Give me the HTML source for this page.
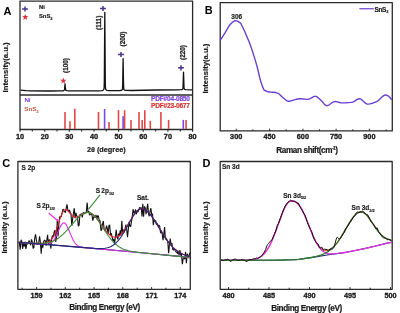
<!DOCTYPE html>
<html><head><meta charset="utf-8"><style>
html,body{margin:0;padding:0;background:#fff;}
svg{display:block;will-change:transform;}
text{font-family:"Liberation Sans",sans-serif;font-weight:bold;fill:#1a1a1a;}
.tk{font-size:7.3px;stroke:#1a1a1a;stroke-width:0.3px;}
.lb{font-size:7.3px;stroke:#1a1a1a;stroke-width:0.2px;}
.lbc{font-size:8.2px;letter-spacing:-0.4px;stroke:#1a1a1a;stroke-width:0.2px;}
.lby{font-size:7.7px;stroke:#1a1a1a;stroke-width:0.15px;}
.pl{font-size:11px;fill:#000;}
.lg{font-size:5.8px;fill:#222;stroke:#222;stroke-width:0.2px;}
.hk{font-size:6.4px;stroke:#1a1a1a;stroke-width:0.25px;}
.rf{font-size:6.6px;letter-spacing:-0.2px;stroke-width:0.15px;}
.sm{font-size:6.5px;stroke:#1a1a1a;stroke-width:0.15px;}
</style></head><body>
<svg width="400" height="313" viewBox="0 0 400 313">
<rect width="400" height="313" fill="#fff"/>
<rect x="20" y="1.1" width="172.6" height="128.4" fill="none" stroke="#2a2a2a" stroke-width="1.3" stroke-linejoin="round"/>
<line x1="20" y1="95" x2="192.6" y2="95" stroke="#2a2a2a" stroke-width="1.3"/>
<line x1="20" y1="129.5" x2="20" y2="131.8" stroke="#2a2a2a" stroke-width="1.1"/>
<line x1="32.3" y1="129.5" x2="32.3" y2="131.5" stroke="#2a2a2a" stroke-width="1.1"/>
<line x1="44.7" y1="129.5" x2="44.7" y2="131.8" stroke="#2a2a2a" stroke-width="1.1"/>
<line x1="57" y1="129.5" x2="57" y2="131.5" stroke="#2a2a2a" stroke-width="1.1"/>
<line x1="69.3" y1="129.5" x2="69.3" y2="131.8" stroke="#2a2a2a" stroke-width="1.1"/>
<line x1="81.6" y1="129.5" x2="81.6" y2="131.5" stroke="#2a2a2a" stroke-width="1.1"/>
<line x1="94" y1="129.5" x2="94" y2="131.8" stroke="#2a2a2a" stroke-width="1.1"/>
<line x1="106.3" y1="129.5" x2="106.3" y2="131.5" stroke="#2a2a2a" stroke-width="1.1"/>
<line x1="118.6" y1="129.5" x2="118.6" y2="131.8" stroke="#2a2a2a" stroke-width="1.1"/>
<line x1="131" y1="129.5" x2="131" y2="131.5" stroke="#2a2a2a" stroke-width="1.1"/>
<line x1="143.3" y1="129.5" x2="143.3" y2="131.8" stroke="#2a2a2a" stroke-width="1.1"/>
<line x1="155.6" y1="129.5" x2="155.6" y2="131.5" stroke="#2a2a2a" stroke-width="1.1"/>
<line x1="167.9" y1="129.5" x2="167.9" y2="131.8" stroke="#2a2a2a" stroke-width="1.1"/>
<line x1="180.3" y1="129.5" x2="180.3" y2="131.5" stroke="#2a2a2a" stroke-width="1.1"/>
<line x1="192.6" y1="129.5" x2="192.6" y2="131.8" stroke="#2a2a2a" stroke-width="1.1"/>
<text x="20" y="139.2" class="tk" text-anchor="middle">10</text>
<text x="44.7" y="139.2" class="tk" text-anchor="middle">20</text>
<text x="69.3" y="139.2" class="tk" text-anchor="middle">30</text>
<text x="94" y="139.2" class="tk" text-anchor="middle">40</text>
<text x="118.6" y="139.2" class="tk" text-anchor="middle">50</text>
<text x="143.3" y="139.2" class="tk" text-anchor="middle">60</text>
<text x="167.9" y="139.2" class="tk" text-anchor="middle">70</text>
<text x="192.6" y="139.2" class="tk" text-anchor="middle">80</text>
<text x="106.3" y="152" class="lb" text-anchor="middle">2θ (degree)</text>
<text transform="translate(8.4,67.4) rotate(-90)" class="lby" text-anchor="middle">Intensity(a.u.)</text>
<text x="3.6" y="15.3" class="pl">A</text>
<polyline fill="none" stroke="#111" stroke-width="1.3" stroke-linejoin="round" points="20.6,90.2 25.9,90.7 30,90.9 49.4,91 60,90.9 63,90.8 64,90.4 64.2,90.2 64.4,89.9 64.6,88.8 65,83.9 65.5,88.7 65.7,89.9 65.8,90.2 66.1,90.4 66.9,90.7 68.5,90.8 72,90.9 98.7,90.8 102,90.6 102.9,90.3 103.4,90 103.9,89.2 104.1,88.2 104.3,82.3 104.8,12.3 105.3,82.3 105.4,86.5 105.6,88.6 105.8,89.4 106.3,90 106.7,90.3 107.2,90.4 108.8,90.6 118.3,90.6 120.1,90.5 121.2,90.3 121.8,90.1 122.3,89.6 122.5,88.4 122.7,85.1 123.1,58.6 123.5,82.9 123.7,87.7 123.8,88.8 123.9,89.5 124.2,89.9 124.6,90.1 125.3,90.3 126.4,90.4 131.5,90.5 155.9,90 178.4,89.8 180.8,89.7 181.9,89.6 182.4,89.3 182.7,89 183,87.9 183.5,72.1 184,86.5 184.1,87.9 184.3,88.9 184.5,89.2 184.8,89.4 185.8,89.7 192,89.8"/>
<path d="M22.1 9H27.9M25 6.4V11.6" stroke="#48328a" stroke-width="1.5"/>
<polygon fill="#e0303a" points="25.2,13.9 26,16.1 28.3,16.2 26.5,17.6 27.1,19.9 25.2,18.6 23.3,19.9 23.9,17.6 22.1,16.2 24.4,16.1"/>
<text x="39" y="9.2" class="lg">Ni</text>
<text x="39" y="17.8" class="lg">SnS<tspan font-size="4" dy="1.8">2</tspan></text>
<path d="M100.1 8.5H105.9M103 5.9V11.1" stroke="#48328a" stroke-width="1.5"/>
<path d="M118.1 54.5H123.9M121 51.9V57.1" stroke="#48328a" stroke-width="1.5"/>
<path d="M178.1 67.8H183.9M181 65.2V70.4" stroke="#48328a" stroke-width="1.5"/>
<polygon fill="#e0303a" points="63.3,77.5 64.1,79.7 66.4,79.8 64.6,81.2 65.2,83.5 63.3,82.2 61.4,83.5 62,81.2 60.2,79.8 62.5,79.7"/>
<text transform="translate(67.7,65.5) rotate(-90)" class="hk" text-anchor="middle">(100)</text>
<text transform="translate(101.2,22.8) rotate(-90)" class="hk" text-anchor="middle">(111)</text>
<text transform="translate(125.2,39) rotate(-90)" class="hk" text-anchor="middle">(200)</text>
<text transform="translate(185.2,52.5) rotate(-90)" class="hk" text-anchor="middle">(220)</text>
<line x1="65" y1="111.9" x2="65" y2="128.9" stroke="#e04848" stroke-width="1.6"/>
<line x1="70" y1="121.3" x2="70" y2="128.9" stroke="#e04848" stroke-width="1.6"/>
<line x1="74.8" y1="108.8" x2="74.8" y2="128.9" stroke="#e04848" stroke-width="1.6"/>
<line x1="98.5" y1="111.9" x2="98.5" y2="128.9" stroke="#e04848" stroke-width="1.6"/>
<line x1="109" y1="121.9" x2="109" y2="128.9" stroke="#e04848" stroke-width="1.6"/>
<line x1="118.5" y1="110.2" x2="118.5" y2="128.9" stroke="#e04848" stroke-width="1.6"/>
<line x1="124.6" y1="110.2" x2="124.6" y2="128.9" stroke="#e04848" stroke-width="1.6"/>
<line x1="131" y1="120" x2="131" y2="128.9" stroke="#e04848" stroke-width="1.6"/>
<line x1="139" y1="112.1" x2="139" y2="128.9" stroke="#e04848" stroke-width="1.6"/>
<line x1="142.2" y1="120" x2="142.2" y2="128.9" stroke="#e04848" stroke-width="1.6"/>
<line x1="144.8" y1="110.3" x2="144.8" y2="128.9" stroke="#e04848" stroke-width="1.6"/>
<line x1="150.3" y1="120.9" x2="150.3" y2="128.9" stroke="#e04848" stroke-width="1.6"/>
<line x1="160.9" y1="112.1" x2="160.9" y2="128.9" stroke="#e04848" stroke-width="1.6"/>
<line x1="168.6" y1="119.9" x2="168.6" y2="128.9" stroke="#e04848" stroke-width="1.6"/>
<line x1="186.1" y1="119.9" x2="186.1" y2="128.9" stroke="#e04848" stroke-width="1.6"/>
<line x1="104.6" y1="109" x2="104.6" y2="128.9" stroke="#8048e0" stroke-width="1.6"/>
<line x1="123.1" y1="116.2" x2="123.1" y2="128.9" stroke="#8048e0" stroke-width="1.6"/>
<line x1="183.3" y1="119.9" x2="183.3" y2="128.9" stroke="#8048e0" stroke-width="1.6"/>
<text x="24.5" y="101.9" class="rf" style="fill:#8040e0;font-size:6.2px">Ni</text>
<text x="24.3" y="110.5" class="rf" style="fill:#c8553a;font-size:6.2px;letter-spacing:0px">SnS<tspan font-size="4.2" dy="2.2">2</tspan></text>
<text x="189.8" y="101.1" class="rf" text-anchor="end" style="fill:#7a3fd8;stroke:#7a3fd8">PDF#04-0850</text>
<text x="189.8" y="108" class="rf" text-anchor="end" style="fill:#d83030;stroke:#d83030">PDF#23-0677</text>
<rect x="220.2" y="2.7" width="172.1" height="128.2" fill="none" stroke="#2a2a2a" stroke-width="1.3" stroke-linejoin="round"/>
<line x1="236.2" y1="130.9" x2="236.2" y2="128.7" stroke="#2a2a2a" stroke-width="1"/>
<line x1="252.9" y1="130.9" x2="252.9" y2="129.3" stroke="#2a2a2a" stroke-width="1"/>
<line x1="269.6" y1="130.9" x2="269.6" y2="128.7" stroke="#2a2a2a" stroke-width="1"/>
<line x1="286.2" y1="130.9" x2="286.2" y2="129.3" stroke="#2a2a2a" stroke-width="1"/>
<line x1="302.9" y1="130.9" x2="302.9" y2="128.7" stroke="#2a2a2a" stroke-width="1"/>
<line x1="319.5" y1="130.9" x2="319.5" y2="129.3" stroke="#2a2a2a" stroke-width="1"/>
<line x1="336.1" y1="130.9" x2="336.1" y2="128.7" stroke="#2a2a2a" stroke-width="1"/>
<line x1="352.8" y1="130.9" x2="352.8" y2="129.3" stroke="#2a2a2a" stroke-width="1"/>
<line x1="369.4" y1="130.9" x2="369.4" y2="128.7" stroke="#2a2a2a" stroke-width="1"/>
<line x1="386.1" y1="130.9" x2="386.1" y2="129.3" stroke="#2a2a2a" stroke-width="1"/>
<text x="236.2" y="139" class="tk" text-anchor="middle">300</text>
<text x="269.6" y="139" class="tk" text-anchor="middle">450</text>
<text x="302.9" y="139" class="tk" text-anchor="middle">600</text>
<text x="336.1" y="139" class="tk" text-anchor="middle">750</text>
<text x="369.4" y="139" class="tk" text-anchor="middle">900</text>
<text x="307" y="153.2" class="lbc" text-anchor="middle">Raman shift(cm<tspan font-size="4.5" dy="-3">-1</tspan><tspan dy="3">)</tspan></text>
<text transform="translate(208.2,68.6) rotate(-90)" class="lby" text-anchor="middle">Intensity(a.u.)</text>
<text x="204.8" y="13.6" class="pl">B</text>
<text x="236.8" y="19" class="sm" text-anchor="middle">306</text>
<line x1="359.4" y1="8.75" x2="373.8" y2="8.75" stroke="#6a3fd0" stroke-width="1.2"/>
<text x="374.4" y="11.9" class="sm" style="letter-spacing:-0.3px">SnS<tspan font-size="4" dy="1.4">2</tspan></text>
<polyline fill="none" stroke="#6a3fd0" stroke-width="1.4" stroke-linejoin="round" points="220.2,40.4 225.2,32.6 228.7,26.5 229.7,25.1 232.7,22.1 234.2,21 235.2,20.7 235.7,20.7 236.7,20.9 237.7,21.2 238.7,21.8 240.2,22.8 240.7,23.4 241.2,24.2 244.2,30.3 249.2,42.1 251.2,47.4 254.7,58.4 256.7,65.1 257.7,69 259.7,77.6 260.7,81.2 262.7,87.1 263.7,89.3 264.2,90.1 264.7,90.5 265.7,90.9 267.2,91.5 269.7,92 273.7,92.3 275.2,92.5 276.7,92.9 278.7,93.7 279.7,94.5 282.2,97 285.2,99.5 286.7,100.7 287.7,101.1 288.7,101.3 289.7,101.2 292.7,100.3 296.7,99.2 299.2,98.8 301.2,98.8 306.7,99.4 308.2,99.3 309.7,98.8 313.7,96.7 314.7,96.4 315.7,96.3 316.7,96.6 318.2,97.7 321.2,100.5 324.2,103.9 325.2,104.9 326.2,105.5 326.7,105.6 327.2,105.6 327.7,105.5 328.7,105.1 329.7,104.5 332.7,102.3 334.2,101.6 335.2,101.5 336.2,101.6 340.7,102.7 342.2,102.9 346.2,102.8 350.7,102.4 352.2,102.2 353.2,101.9 354.2,101.3 357.2,99.4 358.2,99 359.2,98.8 360.2,98.9 361.2,99.4 362.2,100.2 364.7,102.6 366.2,103.7 367.2,104.1 368.2,104.1 369.7,103.9 372.7,103.2 376.7,101.7 377.7,101.1 378.7,100.2 382.7,96.3 384.2,95.4 385.2,95 385.7,95 386.7,95.2 388.2,96 389.7,97.3 391.7,99.7"/>
<rect x="17.9" y="161.5" width="172.4" height="127.8" fill="none" stroke="#2a2a2a" stroke-width="1.3" stroke-linejoin="round"/>
<line x1="22.2" y1="289.3" x2="22.2" y2="287.7" stroke="#2a2a2a" stroke-width="1"/>
<line x1="36.6" y1="289.3" x2="36.6" y2="287.1" stroke="#2a2a2a" stroke-width="1"/>
<line x1="51" y1="289.3" x2="51" y2="287.7" stroke="#2a2a2a" stroke-width="1"/>
<line x1="65.3" y1="289.3" x2="65.3" y2="287.1" stroke="#2a2a2a" stroke-width="1"/>
<line x1="79.7" y1="289.3" x2="79.7" y2="287.7" stroke="#2a2a2a" stroke-width="1"/>
<line x1="94.1" y1="289.3" x2="94.1" y2="287.1" stroke="#2a2a2a" stroke-width="1"/>
<line x1="108.4" y1="289.3" x2="108.4" y2="287.7" stroke="#2a2a2a" stroke-width="1"/>
<line x1="122.8" y1="289.3" x2="122.8" y2="287.1" stroke="#2a2a2a" stroke-width="1"/>
<line x1="137.2" y1="289.3" x2="137.2" y2="287.7" stroke="#2a2a2a" stroke-width="1"/>
<line x1="151.6" y1="289.3" x2="151.6" y2="287.1" stroke="#2a2a2a" stroke-width="1"/>
<line x1="165.9" y1="289.3" x2="165.9" y2="287.7" stroke="#2a2a2a" stroke-width="1"/>
<line x1="180.3" y1="289.3" x2="180.3" y2="287.1" stroke="#2a2a2a" stroke-width="1"/>
<text x="36.6" y="297.6" class="tk" text-anchor="middle">159</text>
<text x="65.3" y="297.6" class="tk" text-anchor="middle">162</text>
<text x="94.1" y="297.6" class="tk" text-anchor="middle">165</text>
<text x="122.8" y="297.6" class="tk" text-anchor="middle">168</text>
<text x="151.6" y="297.6" class="tk" text-anchor="middle">171</text>
<text x="180.3" y="297.6" class="tk" text-anchor="middle">174</text>
<text x="104.5" y="310.2" class="lbc" text-anchor="middle">Binding Energy (eV)</text>
<text transform="translate(6.9,227.5) rotate(-90)" class="lby" text-anchor="middle">Intensity (a.u.)</text>
<text x="2.2" y="167.1" class="pl">C</text>
<text x="21.5" y="170.2" class="sm">S 2p</text>
<text x="36.4" y="207.7" class="sm" style="word-spacing:-0.6px">S 2p<tspan font-size="3.8" dy="2.2">3/2</tspan></text>
<text x="95.8" y="192.7" class="sm" style="word-spacing:-0.6px">S 2p<tspan font-size="3.8" dy="2.2">1/2</tspan></text>
<text x="137" y="199.5" class="sm">Sat.</text>
<polyline fill="none" stroke="#111" stroke-width="1.1" stroke-linejoin="miter" stroke-miterlimit="2" points="18.6,242.4 19.4,243.3 20.2,249.7 21,240.3 21.1,240.2 21.8,241.3 22.6,248.7 22.7,248.5 23.4,243.2 23.5,243.2 24.2,246.4 24.3,246.3 25,241.8 25.1,241.9 25.8,248.6 25.9,248.9 26.7,244.3 27.5,244 28.3,243.3 29.1,240.5 29.9,243.1 30.7,245.2 31.5,239.4 32.3,241.9 33.1,248.3 33.2,248.3 33.9,247.6 34.7,238.5 35.5,234.4 35.6,234.6 36.4,240.1 37.2,244.2 38,243.8 38.7,243 39.6,236.4 40.4,242.2 41.2,253.6 42,243.7 42.8,247.7 43.6,241.8 44.4,240.3 45.2,240.6 46,245.6 47.6,234.8 48.4,243.8 48.5,244 49.3,239.7 49.9,240.3 50.1,241 50.8,248.2 50.9,248.4 51.7,239.1 52.4,235.7 52.5,235.4 53.3,236.8 54.1,232.1 54.9,230.1 55.7,241.9 55.8,241.5 56.5,237.9 57.3,219.5 58.1,236.3 58.9,224.2 59.7,217.2 59.8,216.9 60.5,217.3 60.6,217.3 61.3,216.4 63,209.1 63.8,210.5 64.5,211.3 65.4,212.7 66.2,208.1 67,204.4 67.8,209.7 68.6,211.9 69.4,210 70.2,212.2 71,214 71.8,225.6 71.9,225.5 72.7,218.3 74.2,208.4 74.3,208.6 75.1,218.3 75.9,212.9 76.7,216 77.4,216.5 77.5,216.7 78.3,226.2 79.1,225.1 79.9,214.8 80.7,214.2 81.5,214 82.3,217.3 83.1,212.9 83.2,212.7 83.9,212.6 84.7,213.7 84.8,213.7 85.6,212.5 86.3,212.2 87.1,203 87.2,202.8 88,212.4 88.7,211.6 88.8,211.6 89.6,215.2 90.4,214.3 91.2,213.2 92,215.2 92.8,220.7 93.6,217.4 94.4,215.8 95.2,217.8 96,214.8 96.8,219 96.9,218.9 97.6,215.9 97.7,215.8 98.4,216 99.3,220.9 100,220.8 100.1,221.2 100.9,230.5 101.6,230 101.7,229.8 102.5,224.3 103.3,221 104.1,228.9 104.9,230.6 105.7,230.2 106.5,225.6 107.3,228.3 108.1,234.3 108.9,225.9 109,225.5 109.7,225.2 110.6,235.5 111.3,233.8 111.4,233.9 113,240.8 113.7,239.3 113.8,239.3 114.6,243.9 116.2,229.7 117,236.5 117.8,239.3 118.6,233.7 119.4,236.2 120.2,230.4 120.3,230.7 121,235.7 121.8,221.1 121.9,221.2 122.6,233.1 122.7,233.7 123.5,229.6 124.2,231.7 124.3,231.8 125.1,229.1 125.9,224.5 126.7,229.4 127.5,237.2 129.1,221.9 129.9,226.2 130.7,226.5 132.3,216.1 133.1,209.4 133.2,209.3 133.9,212.7 134,212.9 134.7,212.2 135.5,209.9 135.6,210 136.3,214 136.4,214.2 137.2,210.5 138,212.2 138.8,209.6 139.6,207.6 140.4,208.2 141.2,207.5 142,216.4 142.8,203.9 143.6,216.8 144.4,206.8 144.5,206.5 145.2,208 146,213.7 146.1,213.7 146.9,209.1 147.6,204 147.7,204.1 148.5,213.3 149.2,216.1 149.3,216.2 150.1,210.9 150.9,208.2 151.7,214.9 152.5,213.6 153.3,225.2 154.1,219.8 154.9,221.1 155.7,220.7 156.5,224.5 156.6,224.5 157.3,223.8 158.1,225.8 158.2,225.9 158.9,225.2 159,225.2 159.7,226.2 160.6,233.1 161.3,230.7 161.4,230.6 162.1,233.3 163,240.3 163.8,234.4 164.6,227.1 165.4,239.3 166.2,238.5 167.8,241.4 168.6,253.1 168.7,252.8 169.4,245.3 170.2,239 170.3,239 171,243.8 171.1,244 171.8,243.2 171.9,243.5 172.7,249.2 173.4,249.9 173.5,249.9 174.3,248.4 175.1,250.5 175.9,251.7 177.5,253.2 178.3,250.8 179.1,255.5 179.9,250.1 180.7,254.9 180.8,255.1 181.5,254.7 182.3,263.7 182.4,263.7 183.2,258.5 183.9,258 184.7,258.9 184.8,258.7 185.5,252.2 185.6,252.1 186.4,263.1 187.2,253.7 188,256.1 188.8,258.1 189.6,252.9"/>
<polyline fill="none" stroke="#26267a" stroke-width="1.1" points="18.6,242.4 60.3,245.6 98.9,248.9 147.3,253.3 189.6,257.4"/>
<polyline fill="none" stroke="#e02030" stroke-width="1.1" points="18.6,242.4 32.6,243.3 37,243.4 40.6,243.4 43.6,243.2 45.9,242.8 47.8,242.1 49.5,241.2 50.7,240.2 51.8,239 52.9,237.4 53.9,235.6 55,233.2 56.2,230.1 60.3,217.9 61.9,213.8 62.8,212 63.7,210.7 64.6,209.9 65.5,209.6 66,209.6 66.5,209.8 67.6,210.6 68.6,211.6 71.2,214.7 72.5,216 73.7,216.7 74.9,217.1 76.2,217.1 77.6,216.7 78.9,216.1 83.1,213.7 84.5,213.1 85.8,212.7 87.3,212.5 88.7,212.5 90,212.8 91.3,213.3 92.5,214.1 93.7,215.1 95,216.3 96.3,217.8 98.8,221 105.3,230 107.2,232.3 109,234.2 111,235.8 112,236.4 112.9,236.8 113.9,237 114.8,237.2 115.8,237.1 116.7,236.9 118.3,236.3 119.9,235.2 121.5,233.7 123.2,231.6 124.6,229.7 126.2,227.3 132.9,216.2 134.6,213.8 136.1,211.9 137.6,210.4 139.1,209.4 140.5,208.8 141.9,208.7 142.9,208.9 144,209.2 145,209.7 146.1,210.4 147.2,211.3 148.3,212.3 150.6,214.9 152.5,217.4 154.7,220.7 162.4,233.3 165.8,238.5 169.4,243.4 171.2,245.5 172.9,247.3 174.7,249 176.6,250.5 178.5,251.9 180.5,253.1 182.5,254.1 184.7,255 187,255.8 189.6,256.5"/>
<polyline fill="none" stroke="#e030e0" stroke-width="1.1" points="18.6,242.4 44.2,244.3 46,244.3 47.5,244.2 48.8,244 49.9,243.6 51,243 52,242.3 53,241.2 54,239.9 55,238.3 56.1,236.2 59.6,228.3 61,225.6 61.8,224.3 62.6,223.5 63.3,223 64,222.9 64.7,223.1 65.4,223.7 66.1,224.6 66.9,225.9 68.3,228.8 72.2,238.1 73.4,240.5 74.6,242.5 75.9,244.1 77.3,245.4 78.8,246.3 80.6,246.9 82.9,247.4 86.3,247.8 144.1,253 189.6,257.4"/>
<polyline fill="none" stroke="#3a8a3a" stroke-width="1.1" points="18.6,242.4 33,243.3 37.5,243.4 41.2,243.4 44.6,243.1 47.7,242.6 50.6,241.9 53.3,240.9 55.8,239.7 58.2,238.2 60.6,236.4 63,234.3 65.1,232.2 67.3,229.9 76.2,219.6 78.4,217.4 80.3,215.7 82.5,214.1 84.5,213.1 86.5,212.6 87.5,212.5 88.5,212.5 89.4,212.6 90.3,212.9 92.1,213.9 93.9,215.3 95.9,217.5 97.6,219.6 99.4,222.2 105.7,231.9 108.3,235.8 110.9,239.2 113.3,242 115.6,244.2 117.9,246 120.3,247.6 122.8,248.9 125.5,249.9 128.6,250.8 132.1,251.5 136.3,252.1 144.1,253 189.6,257.4"/>
<polyline fill="none" stroke="#26267a" stroke-width="1.1" points="18.6,242.4 49.8,244.8 94.3,248.4 98.6,248.6 102.1,248.5 105.1,248.2 107.7,247.7 110.5,246.7 113.1,245.2 115.6,243.3 118,240.9 120.5,237.7 123.1,233.8 125.6,229.6 131.6,218.7 133.3,215.9 134.9,213.6 136.8,211.3 137.7,210.5 138.6,209.8 139.5,209.3 140.3,209 141.2,208.8 142,208.8 143,209 144.1,209.3 145.1,209.8 146.2,210.5 148.3,212.3 150.6,214.9 152.5,217.4 154.7,220.7 162.4,233.3 165.8,238.5 169.4,243.4 171.2,245.5 172.9,247.3 174.7,249 176.6,250.5 178.5,251.9 180.5,253.1 182.5,254.1 184.7,255 187,255.8 189.6,256.5"/>
<line x1="48.6" y1="213" x2="58.7" y2="221.5" stroke="#e030e0" stroke-width="1.1"/>
<line x1="100.1" y1="194.8" x2="88.6" y2="209.2" stroke="#3a8a3a" stroke-width="1.1"/>
<rect x="220.2" y="161.5" width="172" height="127.8" fill="none" stroke="#2a2a2a" stroke-width="1.3" stroke-linejoin="round"/>
<line x1="228.5" y1="289.3" x2="228.5" y2="287.1" stroke="#2a2a2a" stroke-width="1"/>
<line x1="248.8" y1="289.3" x2="248.8" y2="287.7" stroke="#2a2a2a" stroke-width="1"/>
<line x1="269" y1="289.3" x2="269" y2="287.1" stroke="#2a2a2a" stroke-width="1"/>
<line x1="289.2" y1="289.3" x2="289.2" y2="287.7" stroke="#2a2a2a" stroke-width="1"/>
<line x1="309.5" y1="289.3" x2="309.5" y2="287.1" stroke="#2a2a2a" stroke-width="1"/>
<line x1="329.8" y1="289.3" x2="329.8" y2="287.7" stroke="#2a2a2a" stroke-width="1"/>
<line x1="350" y1="289.3" x2="350" y2="287.1" stroke="#2a2a2a" stroke-width="1"/>
<line x1="370.2" y1="289.3" x2="370.2" y2="287.7" stroke="#2a2a2a" stroke-width="1"/>
<line x1="390.5" y1="289.3" x2="390.5" y2="287.1" stroke="#2a2a2a" stroke-width="1"/>
<text x="228.5" y="297.6" class="tk" text-anchor="middle">480</text>
<text x="269" y="297.6" class="tk" text-anchor="middle">485</text>
<text x="309.5" y="297.6" class="tk" text-anchor="middle">490</text>
<text x="350" y="297.6" class="tk" text-anchor="middle">495</text>
<text x="390.5" y="297.6" class="tk" text-anchor="middle">500</text>
<text x="306.5" y="310.5" class="lbc" text-anchor="middle">Binding Energy (eV)</text>
<text transform="translate(208.2,227.5) rotate(-90)" class="lby" text-anchor="middle">Intensity (a.u.)</text>
<text x="202.6" y="167.2" class="pl">D</text>
<text x="222" y="168.6" class="sm">Sn 3d</text>
<text x="283.2" y="197.6" class="sm">Sn 3d<tspan font-size="3.8" dy="1.6">5/2</tspan></text>
<text x="351.6" y="209.9" class="sm">Sn 3d<tspan font-size="3.8" dy="1.6">3/2</tspan></text>
<polyline fill="none" stroke="#26267a" stroke-width="1.1" points="220.9,260.3 275.4,260.2 290.9,259.8 295.9,259.6 299.1,259.3 312.6,257.4 328.6,254.8 342.6,252.9 348.9,251.8 356.4,250.3 365.4,248.4 375.6,246 386.1,243.4 391.6,242.3"/>
<polyline fill="none" stroke="#e04020" stroke-width="1.1" points="220.9,260.3 243.1,260.2 247.9,260.1 251.4,259.8 254.9,259.1 257.6,258.3 260.1,257 262.4,255.4 264.6,253.2 266.9,250.2 268.9,247 271.1,242.5 272.9,238.5 274.6,234.2 282.1,213.7 283.6,210.1 285.1,207 286.6,204.4 288.1,202.5 288.9,201.8 289.6,201.3 290.4,201 290.9,201 292.4,201 293.6,201.2 294.9,201.6 295.9,202.1 297.1,203 298.1,204 299.1,205.2 300.1,206.6 302.1,209.9 304.4,214.6 306.6,219.9 312.1,233.6 313.9,237.5 315.6,241 317.6,244.4 319.6,247 320.6,248 321.6,248.9 322.6,249.5 323.6,250 324.9,250.3 326.1,250.4 327.4,250.3 328.9,249.8 330.1,249.2 331.6,248.2 333.1,247 334.6,245.6 337.4,242.3 340.4,238.1 343.1,233.6 349.6,222.5 351.4,219.8 353.1,217.4 355.1,215 356.9,213.5 358.6,212.4 359.6,212.1 360.4,211.9 361.1,211.9 361.9,212 363.4,212.5 364.9,213.5 366.6,215.1 368.1,216.9 369.6,218.9 375.4,227.5 377.6,230.6 379.9,233.3 382.1,235.6 384.4,237.4 386.6,238.7 389.1,239.7 391.6,240.3"/>
<polyline fill="none" stroke="#e030e0" stroke-width="1.3" points="220.9,260.3 243.1,260.2 247.9,260.1 251.4,259.8 254.9,259.1 257.6,258.3 260.1,257 262.4,255.4 264.6,253.2 266.9,250.2 268.9,247 271.1,242.5 272.9,238.5 274.6,234.2 282.1,213.7 283.6,210.1 285.1,207 286.6,204.4 288.1,202.5 288.9,201.8 289.6,201.3 290.4,201 290.9,201 292.4,201 293.6,201.2 294.9,201.6 295.9,202.1 297.1,203 298.1,204 299.1,205.2 300.1,206.6 302.1,209.9 304.4,214.6 306.6,219.9 312.6,234.9 314.6,239.4 316.6,243.2 318.9,246.8 319.9,248.1 321.1,249.5 322.1,250.5 323.4,251.4 324.6,252.2 325.9,252.8 327.4,253.3 328.9,253.6 330.6,253.8 332.6,253.8 337.9,253.4 344.9,252.5 352.1,251.2 363.4,248.9 375.4,246.1 386.1,243.4 391.6,242.3"/>
<polyline fill="none" stroke="#2f7a2f" stroke-width="1.3" points="220.9,260.3 273.4,260.2 284.4,260 295.4,259.6 298.4,259.4 301.6,259 311.4,257.5 316.4,256.4 320.6,255.2 322.6,254.4 324.6,253.5 326.4,252.6 328.1,251.5 329.9,250.3 331.4,249 334.4,246.1 337.1,242.8 340.1,238.5 343.1,233.6 349.4,222.9 351.1,220.2 352.9,217.7 354.9,215.3 356.6,213.7 357.6,213 358.6,212.4 359.6,212.1 360.4,211.9 361.1,211.9 361.9,212 363.4,212.5 364.9,213.5 366.6,215.1 368.1,216.9 369.6,218.9 375.4,227.5 377.6,230.6 379.9,233.3 382.1,235.6 384.4,237.4 386.6,238.7 389.1,239.7 391.6,240.3"/>
<polyline fill="none" stroke="#111" stroke-width="1.0" stroke-linejoin="round" points="220.9,260.7 222.1,259.5 222.4,259.7 223.4,261 223.6,261 224.9,259.5 226.1,260.1 227.4,259.1 227.6,259.2 228.6,259.5 228.9,259.7 230.1,261.4 231.4,261 232.6,260 233.9,259.6 235.4,258.8 236.6,260 237.9,260.2 240.6,260.2 241.9,259.4 243.1,260.1 244.4,260.2 244.6,260.2 245.9,261.2 247.1,261.6 248.4,260 249.6,259.4 249.9,259.4 251.1,259.7 252.4,259.2 253.6,258.8 254.9,259 255.1,259 256.4,257.9 257.6,258.7 258.9,257.7 260.4,257 261.6,255.8 262.4,254.9 263.6,253.1 264.9,251 265.6,249.5 266.9,245.9 267.6,244.6 268.6,243.3 269.6,242.2 270.9,240.5 271.6,240.2 272.1,239.8 273.4,236.2 274.6,233.6 275.9,230.6 277.4,225.1 278.6,223.2 282.6,212.1 285.1,206.2 287.9,202.3 289.1,201.7 290.4,200.2 290.6,200.1 291.9,201.1 294.1,201.2 295.6,201.6 297.1,203.4 298.4,203 299.6,206.1 301.1,208.4 302.4,210.6 303.6,213.2 304.9,215.2 306.1,218.4 307.6,222.9 309.9,228.3 310.4,229.3 311.4,230.7 311.6,231.3 312.9,235.8 314.1,239 314.9,240.5 315.6,241.8 316.6,243.1 316.9,243.3 317.9,243.7 318.1,244 319.4,247.5 320.6,248 321.9,247.2 322.1,247.4 323.4,250.1 324.6,249.1 327.1,249.7 328.4,250.8 328.6,250.9 329.9,249.1 331.1,248.8 332.4,248.9 332.6,248.8 332.9,248.6 333.6,247.8 334.1,246.8 334.6,245.3 336.1,239.5 336.9,237.5 337.1,237.3 337.4,237.3 337.6,237.4 338.4,238.5 338.9,238.9 339.4,238.9 339.6,238.8 340.4,238.4 341.6,236.4 343.1,233.8 344.4,232.3 345.6,228.8 348.1,225.5 349.6,223 350.9,221.4 353.4,216.9 353.6,216.5 354.9,215.6 356.1,213.3 357.4,211.9 357.6,211.9 358.6,212.7 358.9,212.8 360.1,211.9 361.4,212.1 362.6,211 362.9,211.1 364.1,212.7 365.4,213.4 366.6,214.5 367.9,214.9 368.1,215.3 369.4,218.3 370.6,221 371.9,222.5 373.1,223.7 373.4,224 375.9,228.8 377.1,227.8 378.6,231.8 379.9,233.8 381.1,235.2 382.4,237.1 383.6,237.8 385.1,238.1 386.4,238.8 387.6,239.8 388.9,239.3 389.1,239.3 390.4,240.1 391.6,241"/>
</svg>
</body></html>
